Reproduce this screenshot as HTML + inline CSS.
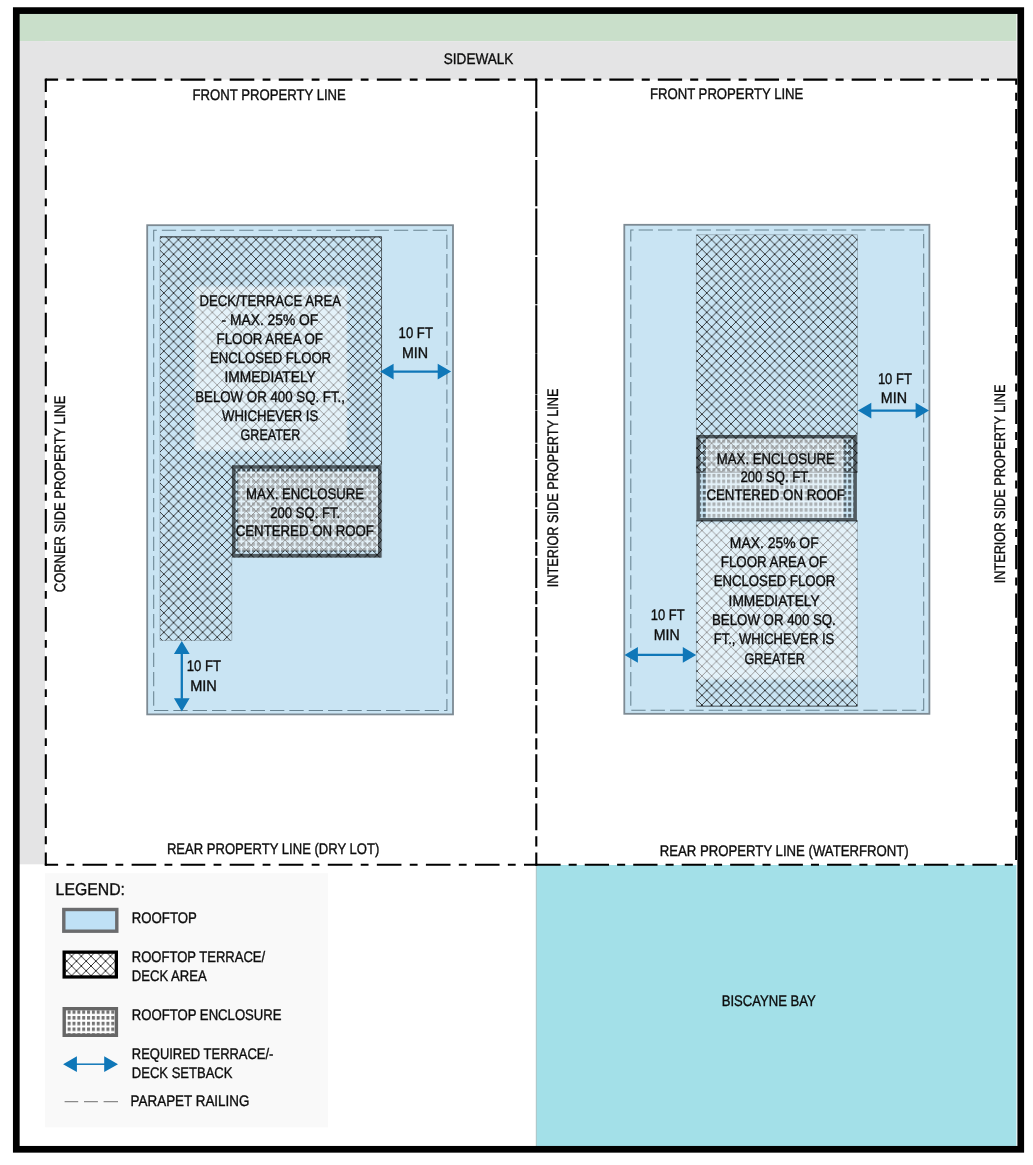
<!DOCTYPE html>
<html><head><meta charset="utf-8"><title>Rooftop diagram</title>
<style>html,body{margin:0;padding:0;background:#fff}svg{display:block;will-change:transform;filter:blur(0.35px)}text{font-family:"Liberation Sans",sans-serif;white-space:pre;stroke:#0c0c0c;stroke-width:0.36px;paint-order:stroke fill;text-rendering:geometricPrecision}</style>
</head><body>
<svg width="1033" height="1165" viewBox="0 0 1033 1165" font-family="'Liberation Sans', sans-serif">
<defs>
<pattern id="hatch" patternUnits="userSpaceOnUse" x="8.730" y="2.125" width="9.695" height="9.695">
<path d="M-9.695,-9.695 L19.39,19.39 M-9.695,19.39 L19.39,-9.695 M-9.695,0 L9.695,19.39 M0,-9.695 L19.39,9.695 M-9.695,9.695 L9.695,-9.695 M0,19.39 L19.39,0" stroke="#1c1c1c" stroke-width="0.85" fill="none"/>
</pattern>
<pattern id="hatchL" patternUnits="userSpaceOnUse" x="3.735" y="6.150" width="9.695" height="9.695">
<path d="M-9.695,-9.695 L19.39,19.39 M-9.695,19.39 L19.39,-9.695 M-9.695,0 L9.695,19.39 M0,-9.695 L19.39,9.695 M-9.695,9.695 L9.695,-9.695 M0,19.39 L19.39,0" stroke="#222" stroke-width="0.95" fill="none"/>
</pattern>
<pattern id="grid" patternUnits="userSpaceOnUse" x="4.710" y="4.810" width="4.8475" height="5.72">
<rect x="0" y="0" width="3.1" height="3.5" fill="#000" fill-opacity="0.56"/>
</pattern>
<filter id="soft" x="-5%" y="-5%" width="110%" height="110%"><feGaussianBlur stdDeviation="1.3"/></filter>
</defs>
<rect width="1033" height="1165" fill="#fff"/>
<rect x="19" y="13" width="997.4" height="28.2" fill="#c9dfca"/>
<rect x="19" y="41.2" width="997.4" height="38.4" fill="#e4e4e5"/>
<rect x="19" y="41.2" width="26" height="823.1" fill="#e4e4e5"/>
<rect x="536.3" y="865" width="480.1" height="282" fill="#a3e0e8"/>
<rect x="535.8" y="866" width="0.9" height="281" fill="#9aa" fill-opacity="0.7"/>
<rect x="45.1" y="873.2" width="283" height="254.1" fill="#f9f9f9"/>
<rect x="16.3" y="10.6" width="1004.45" height="1138.7" fill="none" stroke="#000" stroke-width="6.7"/>
<line x1="45.8" y1="79.6" x2="536.3" y2="79.6" stroke="#000" stroke-width="2.1" stroke-dasharray="24.600 8.325 7.800 8.325" stroke-dashoffset="12.300"/>
<line x1="45.8" y1="864.8" x2="536.3" y2="864.8" stroke="#000" stroke-width="2.1" stroke-dasharray="24.600 8.325 7.800 8.325" stroke-dashoffset="12.300"/>
<line x1="45.8" y1="79.6" x2="45.8" y2="864.8" stroke="#000" stroke-width="2.1" stroke-dasharray="24.600 8.337 7.800 8.337" stroke-dashoffset="12.300"/>
<rect x="44.75" y="78.55" width="2.1" height="2.1" fill="#000"/>
<rect x="535.25" y="78.55" width="2.1" height="2.1" fill="#000"/>
<rect x="44.75" y="863.75" width="2.1" height="2.1" fill="#000"/>
<rect x="535.25" y="863.75" width="2.1" height="2.1" fill="#000"/>
<path d="M536.3,864.8 L1016.2,864.8 L1016.2,79.6 L536.3,79.6" fill="none" stroke="#000" stroke-width="2.1" stroke-dasharray="24.3 8.05 8.05 8.06" stroke-linejoin="miter"/>
<path d="M536.3,79.60V108.04 M536.3,111.51V157.11 M536.3,159.97V206.19 M536.3,208.43V255.26 M536.3,256.89V304.34 M536.3,305.35V353.41 M536.3,353.81V394.22 M536.3,394.69V410.32 M536.3,410.82V442.68 M536.3,443.76V458.78 M536.3,459.90V491.14 M536.3,492.84V507.24 M536.3,508.97V539.60 M536.3,541.91V555.70 M536.3,558.05V588.06 M536.3,590.99V604.16 M536.3,607.12V636.52 M536.3,640.06V652.62 M536.3,656.20V684.98 M536.3,689.14V701.08 M536.3,705.28V733.44 M536.3,738.21V749.54 M536.3,754.35V781.90 M536.3,787.29V798.00 M536.3,803.43V830.36 M536.3,836.36V846.46 M536.3,852.50V864.80" fill="none" stroke="#000" stroke-width="2.1"/>
<rect x="147.2" y="225.2" width="305.80" height="489.20" fill="#c9e4f3" stroke="#7d8a93" stroke-width="1.8"/>
<path d="M446.9,230.3 L153.7,230.3 L153.7,710.4 L446.9,710.4 Z" fill="none" stroke="#688391" stroke-width="1.05" stroke-dasharray="14.3 5.04"/>
<rect x="624.3" y="224.8" width="305.10" height="489.00" fill="#c9e4f3" stroke="#7d8a93" stroke-width="1.8"/>
<path d="M923.7,230.0 L630.8,230.0 L630.8,710.2 L923.7,710.2 Z" fill="none" stroke="#688391" stroke-width="1.05" stroke-dasharray="14.3 5.04"/>
<path d="M160,236.8 L381.6,236.8 L381.6,557.4 L231.8,557.4 L231.8,640.4 L160,640.4 Z" fill="url(#hatch)" stroke="#000" stroke-opacity="0.3" stroke-width="0.7"/>
<rect x="696.3" y="234.8" width="161.1" height="237.4" fill="url(#hatch)" stroke="#000" stroke-opacity="0.3" stroke-width="0.7"/>
<rect x="696.3" y="520.5" width="161.1" height="185.7" fill="url(#hatch)" stroke="#000" stroke-opacity="0.3" stroke-width="0.7"/>
<path d="M160,236.9 H381.6" stroke="#000" stroke-opacity="0.75" stroke-width="1"/>
<path d="M381.5,236.8 V465" stroke="#000" stroke-opacity="0.5" stroke-width="0.8"/>
<path d="M696.3,706.1 H857.4" stroke="#000" stroke-opacity="0.6" stroke-width="0.9"/>
<path d="M696.3,472.2 H857.4" stroke="#000" stroke-opacity="0.5" stroke-width="0.9"/>
<rect x="235.40" y="468.70" width="142.50" height="85.20" fill="url(#grid)"/>
<rect x="233.65" y="466.95" width="146.00" height="88.70" fill="none" stroke="#000" stroke-opacity="0.6" stroke-width="3.5"/>
<rect x="699.90" y="438.50" width="153.50" height="79.50" fill="url(#grid)"/>
<rect x="698.15" y="436.75" width="157.00" height="83.00" fill="none" stroke="#000" stroke-opacity="0.6" stroke-width="3.5"/>
<rect x="194.5" y="286.5" width="152.50" height="164.10" fill="#fff" fill-opacity="0.5" filter="url(#soft)"/>
<rect x="238.2" y="471.5" width="139.80" height="79.00" fill="#fff" fill-opacity="0.5"/>
<rect x="706" y="438.7" width="137.50" height="79.10" fill="#fff" fill-opacity="0.5"/>
<rect x="698" y="523" width="158.80" height="156.50" fill="#fff" fill-opacity="0.5" filter="url(#soft)"/>
<path d="M380.2,371.6 L393.59999999999997,363.75 L393.59999999999997,379.45000000000005 Z M451.1,371.6 L437.70000000000005,363.75 L437.70000000000005,379.45000000000005 Z" fill="#0f77b8"/>
<line x1="393.09999999999997" y1="371.6" x2="438.20000000000005" y2="371.6" stroke="#0f77b8" stroke-width="2.3"/>
<path d="M181.8,640.9 L173.95000000000002,654.1 L189.65,654.1 Z M181.8,711.5 L173.95000000000002,698.3 L189.65,698.3 Z" fill="#0f77b8"/>
<line x1="181.8" y1="653.6" x2="181.8" y2="698.8" stroke="#0f77b8" stroke-width="2.3"/>
<path d="M857.9,410.6 L871.3,402.75 L871.3,418.45000000000005 Z M929.0,410.6 L915.6,402.75 L915.6,418.45000000000005 Z" fill="#0f77b8"/>
<line x1="870.8" y1="410.6" x2="916.1" y2="410.6" stroke="#0f77b8" stroke-width="2.3"/>
<path d="M624.5,654.9 L637.9,647.05 L637.9,662.75 Z M696.2,654.9 L682.8000000000001,647.05 L682.8000000000001,662.75 Z" fill="#0f77b8"/>
<line x1="637.4" y1="654.9" x2="683.3000000000001" y2="654.9" stroke="#0f77b8" stroke-width="2.3"/>
<text transform="translate(443.80,63.70) scale(0.8867,1)" font-size="15.3" fill="#0c0c0c">SIDEWALK</text>
<text transform="translate(192.50,99.50) scale(0.8591,1)" font-size="15.3" fill="#0c0c0c">FRONT PROPERTY LINE</text>
<text transform="translate(649.90,99.30) scale(0.8597,1)" font-size="15.3" fill="#0c0c0c">FRONT PROPERTY LINE</text>
<text transform="translate(65.00,592.20) rotate(-90) scale(0.8459,1)" font-size="15.3" fill="#0c0c0c">CORNER SIDE PROPERTY LINE</text>
<text transform="translate(558.10,587.20) rotate(-90) scale(0.8310,1)" font-size="15.3" fill="#0c0c0c">INTERIOR SIDE PROPERTY LINE</text>
<text transform="translate(1005.10,583.30) rotate(-90) scale(0.8310,1)" font-size="15.3" fill="#0c0c0c">INTERIOR SIDE PROPERTY LINE</text>
<text transform="translate(199.50,305.50) scale(0.8575,1)" font-size="15.3" fill="#0c0c0c">DECK/TERRACE AREA</text>
<text transform="translate(221.50,324.60) scale(0.9038,1)" font-size="15.3" fill="#0c0c0c">- MAX. 25% OF</text>
<text transform="translate(216.60,343.80) scale(0.8685,1)" font-size="15.3" fill="#0c0c0c">FLOOR AREA OF</text>
<text transform="translate(210.00,363.00) scale(0.8580,1)" font-size="15.3" fill="#0c0c0c">ENCLOSED FLOOR</text>
<text transform="translate(224.50,382.30) scale(0.9000,1)" font-size="15.3" fill="#0c0c0c">IMMEDIATELY</text>
<text transform="translate(195.20,401.60) scale(0.8680,1)" font-size="15.3" fill="#0c0c0c">BELOW OR 400 SQ. FT.,</text>
<text transform="translate(222.00,421.00) scale(0.8581,1)" font-size="15.3" fill="#0c0c0c">WHICHEVER IS</text>
<text transform="translate(240.60,440.40) scale(0.8184,1)" font-size="15.3" fill="#0c0c0c">GREATER</text>
<text transform="translate(246.10,499.40) scale(0.8622,1)" font-size="15.3" fill="#0c0c0c">MAX. ENCLOSURE</text>
<text transform="translate(270.30,517.80) scale(0.8564,1)" font-size="15.3" fill="#0c0c0c">200 SQ. FT.</text>
<text transform="translate(235.70,536.10) scale(0.8648,1)" font-size="15.3" fill="#0c0c0c">CENTERED ON ROOF</text>
<text transform="translate(398.60,338.40) scale(0.8589,1)" font-size="15.3" fill="#0c0c0c">10 FT</text>
<text transform="translate(401.90,357.80) scale(0.9332,1)" font-size="15.3" fill="#0c0c0c">MIN</text>
<text transform="translate(186.70,671.40) scale(0.8589,1)" font-size="15.3" fill="#0c0c0c">10 FT</text>
<text transform="translate(190.20,691.20) scale(0.9510,1)" font-size="15.3" fill="#0c0c0c">MIN</text>
<text transform="translate(877.90,384.20) scale(0.8489,1)" font-size="15.3" fill="#0c0c0c">10 FT</text>
<text transform="translate(880.80,403.20) scale(0.9332,1)" font-size="15.3" fill="#0c0c0c">MIN</text>
<text transform="translate(650.80,620.40) scale(0.8489,1)" font-size="15.3" fill="#0c0c0c">10 FT</text>
<text transform="translate(653.70,639.60) scale(0.9261,1)" font-size="15.3" fill="#0c0c0c">MIN</text>
<text transform="translate(716.80,464.30) scale(0.8622,1)" font-size="15.3" fill="#0c0c0c">MAX. ENCLOSURE</text>
<text transform="translate(740.50,482.20) scale(0.8588,1)" font-size="15.3" fill="#0c0c0c">200 SQ. FT.</text>
<text transform="translate(706.40,500.10) scale(0.8673,1)" font-size="15.3" fill="#0c0c0c">CENTERED ON ROOF</text>
<text transform="translate(729.80,547.60) scale(0.9093,1)" font-size="15.3" fill="#0c0c0c">MAX. 25% OF</text>
<text transform="translate(720.80,566.80) scale(0.8693,1)" font-size="15.3" fill="#0c0c0c">FLOOR AREA OF</text>
<text transform="translate(713.70,586.10) scale(0.8615,1)" font-size="15.3" fill="#0c0c0c">ENCLOSED FLOOR</text>
<text transform="translate(728.60,605.50) scale(0.8971,1)" font-size="15.3" fill="#0c0c0c">IMMEDIATELY</text>
<text transform="translate(712.00,624.90) scale(0.8668,1)" font-size="15.3" fill="#0c0c0c">BELOW OR 400 SQ.</text>
<text transform="translate(713.70,644.40) scale(0.8494,1)" font-size="15.3" fill="#0c0c0c">FT., WHICHEVER IS</text>
<text transform="translate(744.50,663.90) scale(0.8294,1)" font-size="15.3" fill="#0c0c0c">GREATER</text>
<text transform="translate(166.90,853.50) scale(0.8539,1)" font-size="15.3" fill="#0c0c0c">REAR PROPERTY LINE (DRY LOT)</text>
<text transform="translate(659.70,855.60) scale(0.8610,1)" font-size="15.3" fill="#0c0c0c">REAR PROPERTY LINE (WATERFRONT)</text>
<text transform="translate(721.70,1006.40) scale(0.8563,1)" font-size="15.3" fill="#0c0c0c">BISCAYNE BAY</text>
<text transform="translate(55.60,894.70) scale(0.9191,1)" font-size="17.2" fill="#0c0c0c">LEGEND:</text>
<rect x="63.8" y="909.5" width="53" height="21.7" fill="#bfe1f6" stroke="#6b6c6e" stroke-width="3.4"/>
<text transform="translate(131.80,923.40) scale(0.8626,1)" font-size="15.3" fill="#0c0c0c">ROOFTOP</text>
<rect x="64.15" y="952.15" width="52.2" height="24.8" fill="#fff"/>
<rect x="64.15" y="952.15" width="52.2" height="24.8" fill="url(#hatchL)" stroke="#000" stroke-width="3.3"/>
<text transform="translate(131.80,961.90) scale(0.8527,1)" font-size="15.3" fill="#0c0c0c">ROOFTOP TERRACE/</text>
<text transform="translate(131.80,981.30) scale(0.8562,1)" font-size="15.3" fill="#0c0c0c">DECK AREA</text>
<rect x="62.5" y="1007" width="55.6" height="30" fill="#fff"/>
<pattern id="gridL" patternUnits="userSpaceOnUse" x="4.633" y="3.610" width="4.8475" height="5.72"><rect width="3.0" height="3.5" fill="#000" fill-opacity="0.55"/></pattern>
<rect x="65.5" y="1010" width="49.6" height="24" fill="url(#gridL)"/>
<rect x="64.2" y="1008.7" width="52.2" height="26.6" fill="none" stroke="#666" stroke-width="3.4"/>
<text transform="translate(131.80,1020.20) scale(0.8581,1)" font-size="15.3" fill="#0c0c0c">ROOFTOP ENCLOSURE</text>
<path d="M63.1,1064.2 L76.9,1056.35 L76.9,1072.05 Z M118,1064.2 L104.2,1056.35 L104.2,1072.05 Z" fill="#0f77b8"/>
<line x1="76" y1="1064.2" x2="105" y2="1064.2" stroke="#0f77b8" stroke-width="1.5"/>
<text transform="translate(131.80,1059.20) scale(0.8473,1)" font-size="15.3" fill="#0c0c0c">REQUIRED TERRACE/-</text>
<text transform="translate(131.80,1078.10) scale(0.8520,1)" font-size="15.3" fill="#0c0c0c">DECK SETBACK</text>
<path d="M64.6,1101.6 H78.2 M84,1101.6 H97.9 M103.6,1101.6 H118" stroke="#8a8a8a" stroke-width="1.3"/>
<text transform="translate(130.60,1106.30) scale(0.8769,1)" font-size="15.3" fill="#0c0c0c">PARAPET RAILING</text>
</svg>
</body></html>
